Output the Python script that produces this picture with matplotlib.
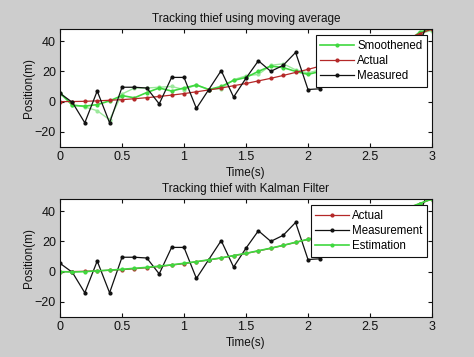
import matplotlib
matplotlib.use("Agg")
import matplotlib.pyplot as plt
import numpy as np

plt.rcParams['font.family'] = ['Liberation Sans', 'DejaVu Sans']

time_s = [0.0, 0.1, 0.2, 0.3, 0.4, 0.5, 0.6, 0.7, 0.8, 0.9, 1.0, 1.1, 1.2, 1.3, 1.4, 1.5,
          1.6, 1.7, 1.8, 1.9, 2.0, 2.1, 2.2, 2.3, 2.4, 2.5, 2.6, 2.7, 2.8, 2.9, 3.0]
actual = [0, 0.05, 0.2, 0.5, 0.9, 1.3, 1.9, 2.6, 3.4, 4.3, 5.3, 6.5, 7.7, 9.0, 10.5, 12.0,
          13.7, 15.4, 17.3, 19.3, 21.3, 23.5, 25.8, 28.2, 30.7, 33.3, 36.0, 38.9, 41.8, 44.9, 48.0]
measured = [5.5, -0.5, -14, 7, -14, 9.5, 9.5, 9, -1.5, 16, 16, -4.5, 8, 20.5, 3, 15.5,
            27, 20, 24, 32.5, 8, 8.5, 30, 22, 35, 28, 40, 33, 42, 38, 60]
smooth_a = [6, -2.5, -3, -2, 0.5, 4, 2.5, 6, 9, 7, 9, 11, 8, 10, 14, 16,
            20, 23.5, 22.5, 20, 18, 20, 24, 27, 29, 31, 34, 36, 39, 46, 48]
smooth_b = [5, -2, -3.5, -6, -12, 5, 9, 9, 9.5, 10, 8, 11, 8, 8.5, 14.5, 17,
            18, 24, 25, 21, 19, 21, 25, 28, 30, 33, 35, 37, 40, 45, 47]
estimation = [0, -0.3, 0, 0.5, 1, 1.5, 2.2, 2.8, 3.6, 4.5, 5.5, 6.6, 7.8, 9.1, 10.6, 12.1,
              13.8, 15.5, 17.4, 19.4, 21.4, 23.6, 25.9, 28.3, 30.8, 33.4, 36.1, 39.0, 41.9, 45.0, 48.0]

xticks = [0, 0.5, 1, 1.5, 2, 2.5, 3]
xticklabels = ['0', '0.5', '1', '1.5', '2', '2.5', '3']
yticks = [-20, 0, 20, 40]

bg = '#cdcdcd'
green = '#3fd83f'
lgreen = '#9be89b'
red = '#b42828'
black = '#111111'

fig = plt.figure(figsize=(4.74, 3.57), dpi=100, facecolor=bg)
ax1 = fig.add_axes([60/474, 1-147/357, 372/474, 118/357])
ax2 = fig.add_axes([60/474, 1-317/357, 372/474, 118/357])

def style(ax, title):
    ax.set_xlim(0, 3)
    ax.set_ylim(-30, 48)
    ax.set_xticks(xticks)
    ax.set_xticklabels(xticklabels)
    ax.set_yticks(yticks)
    ax.tick_params(direction='in', length=3, width=0.8, top=True, right=True,
                   labelsize=9, colors='#111111', pad=3)
    for s in ax.spines.values():
        s.set_linewidth(0.8)
        s.set_color('#111111')
    ax.set_title(title, fontsize=8.5, pad=5, color='#111111')
    ax.set_xlabel('Time(s)', fontsize=8.5, labelpad=3, color='#111111')
    ax.set_ylabel('Position(m)', fontsize=8.5, labelpad=0, color='#111111')

def legend(ax, handles):
    leg = ax.legend(handles=handles, loc='upper right', bbox_to_anchor=(0.987, 0.949),
                    fontsize=8.3, frameon=True, fancybox=False, framealpha=1, edgecolor='#111111',
                    borderpad=0.4, labelspacing=0.28, handlelength=2.9, handletextpad=0.3,
                    borderaxespad=0)
    leg.get_frame().set_linewidth(0.8)
    return leg

ms = 4
ax1.plot(time_s, smooth_b, '.-', color=lgreen, lw=1.0, ms=ms)
l1, = ax1.plot(time_s, smooth_a, '.-', color=green, lw=1.2, ms=ms, label='Smoothened')
l2, = ax1.plot(time_s, actual, '.-', color=red, lw=0.9, ms=ms, label='Actual')
l3, = ax1.plot(time_s, measured, '.-', color=black, lw=0.9, ms=ms, label='Measured')
style(ax1, 'Tracking thief using moving average')
legend(ax1, [l1, l2, l3])

m1, = ax2.plot(time_s, actual, '.-', color=red, lw=0.9, ms=ms, label='Actual')
m2, = ax2.plot(time_s, measured, '.-', color=black, lw=0.9, ms=ms, label='Measurement')
m3, = ax2.plot(time_s, estimation, '.-', color=green, lw=1.2, ms=ms, label='Estimation')
style(ax2, 'Tracking thief with Kalman Filter')
legend(ax2, [m1, m2, m3])

fig.savefig('out.png', dpi=100, facecolor=bg)
